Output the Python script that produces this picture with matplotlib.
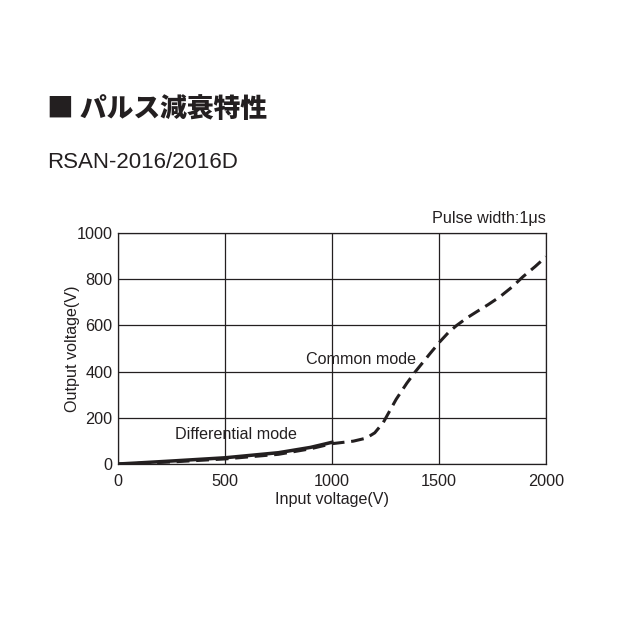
import matplotlib
matplotlib.use('Agg')
import matplotlib.pyplot as plt

# data
diff_x = [0, 100, 250, 500, 750, 900, 1000]
diff_y = [0, 5, 13, 27, 49, 72, 94]

common_x = [0, 100, 250, 500, 750, 900, 1000, 1100, 1160, 1200, 1240, 1300, 1350, 1390, 1460,
            1505, 1545, 1583, 1630, 1676, 1730, 1785, 1840, 1893, 1950, 2000]
common_y = [0, 3, 9, 22, 42, 66, 88, 99, 112, 135, 180, 280, 350, 400, 480,
            530, 570, 600, 632, 659, 690, 724, 765, 811, 855, 897]

xticks = [0, 500, 1000, 1500, 2000]
yticks = [0, 200, 400, 600, 800, 1000]

plt.rcParams['font.family'] = ['Liberation Sans', 'DejaVu Sans']
ink = '#231f20'

fig = plt.figure(figsize=(6.22, 6.22), dpi=100)
ax = fig.add_axes([0.1897, 0.254, 0.688, 0.3714])

ax.plot(common_x, common_y, color=ink, lw=2.2, ls=(0, (4.2, 2.2)))
ax.plot(diff_x, diff_y, color=ink, lw=2.5)

ax.set_xlim(0, 2000)
ax.set_ylim(0, 1000)
ax.set_xticks(xticks)
ax.set_yticks(yticks)
ax.grid(True, color=ink, lw=0.9)
ax.tick_params(length=0, labelsize=11.7, colors=ink)
ax.tick_params(axis='x', pad=7.5)
ax.tick_params(axis='y', pad=4)
for s in ax.spines.values():
    s.set_linewidth(0.9)
    s.set_color(ink)

ax.set_xlabel('Input voltage(V)', fontsize=11.6, labelpad=2, color=ink)
ax.set_ylabel('Output voltage(V)', fontsize=11.6, color=ink)
ax.yaxis.set_label_coords(-0.089, 0.5)

ax.text(265, 95, 'Differential mode', fontsize=11.6, color=ink, va='bottom')
ax.text(880, 420, 'Common mode', fontsize=11.6, color=ink, va='bottom')
ax.text(2000, 1030, 'Pulse width:1\u03bcs', fontsize=11.6, color=ink,
        ha='right', va='bottom')

fig.text(0.075, 0.825, '\u25a0 パルス減衰特性', fontsize=19.3, fontweight='black',
         family=['Noto Sans CJK JP', 'DejaVu Sans'], color=ink, va='center')
fig.text(0.075, 0.739, 'RSAN-2016/2016D', fontsize=16, color=ink, va='center')

fig.savefig('out.png', dpi=100)
